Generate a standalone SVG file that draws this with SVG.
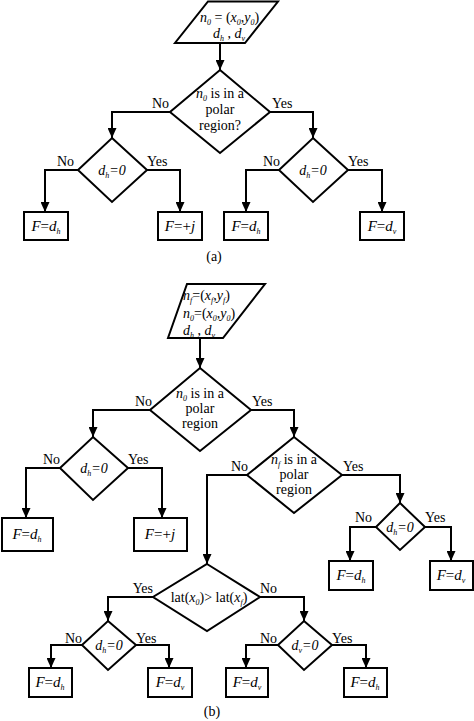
<svg xmlns="http://www.w3.org/2000/svg" width="474" height="721" viewBox="0 0 474 721">
<style>
.t{font-family:"Liberation Serif","Times New Roman",serif;font-size:14px;fill:#000}
.b{font-size:15px}
.l{font-family:"Liberation Serif","Times New Roman",serif;font-size:14px;fill:#000}
.m{text-anchor:middle}
.e{text-anchor:end}
.i{font-style:italic}
.s{font-size:8px}
.shape{fill:#fff;stroke:#000;stroke-width:2}
.c{fill:none;stroke:#000;stroke-width:2}
</style>
<defs>
<marker id="ah" markerUnits="userSpaceOnUse" markerWidth="10" markerHeight="9" refX="10" refY="4.5" orient="auto">
<path d="M0,0 L10,4.5 L0,9 z" fill="#000"/>
</marker>
</defs>
<rect width="474" height="721" fill="#fff"/>

<g id="connectors" class="c" marker-end="url(#ah)">
<polyline points="220,43 220,70"/>
<polyline points="170,112 112,112 112,138"/>
<polyline points="270,112 313,112 313,138"/>
<polyline points="78,170 45,170 45,212"/>
<polyline points="147,170 180,170 180,212"/>
<polyline points="279,170 246,170 246,212"/>
<polyline points="348,170 382,170 382,212"/>
<polyline points="200,338 200,368"/>
<polyline points="150,410 93,410 93,437"/>
<polyline points="251,410 294,410 294,437"/>
<polyline points="60,468 26,468 26,518"/>
<polyline points="128,468 162,468 162,518"/>
<polyline points="247,475 207,475 207,564"/>
<polyline points="342,475 400,475 400,503"/>
<polyline points="376,527 350,527 350,561"/>
<polyline points="425,527 451,527 451,561"/>
<polyline points="153,597 108,597 108,621"/>
<polyline points="260,597 304,597 304,621"/>
<polyline points="82,645 51,645 51,668"/>
<polyline points="136,645 169,645 169,668"/>
<polyline points="278,645 246,645 246,668"/>
<polyline points="332,645 366,645 366,668"/>
</g>

<g id="a_input">
<polygon class="shape" points="208,1.5 278,1.5 245,43 175,43"/>
<text class="t" x="200" y="22"><tspan class="i">n</tspan><tspan class="s i" dy="3">0</tspan><tspan dy="-3"> = (</tspan><tspan class="i">x</tspan><tspan class="s i" dy="3">0</tspan><tspan dy="-3">,</tspan><tspan class="i">y</tspan><tspan class="s i" dy="3">0</tspan><tspan dy="-3">)</tspan></text>
<text class="t" x="213" y="38"><tspan class="i">d</tspan><tspan class="s i" dy="3">h</tspan><tspan dy="-3"> , </tspan><tspan class="i">d</tspan><tspan class="s i" dy="3">v</tspan></text>
</g>

<g id="a_polar">
<polygon class="shape" points="220,70 270,112 220,153 170,112"/>
<text class="t m" x="220" y="98"><tspan class="i">n</tspan><tspan class="s i" dy="3">0</tspan><tspan dy="-3"> is in a</tspan></text>
<text class="t m" x="220" y="114">polar</text>
<text class="t m" x="220" y="130">region?</text>
<text class="l e" x="169" y="108">No</text>
<text class="l" x="272" y="108">Yes</text>
</g>

<g id="a_dh_left">
<polygon class="shape" points="112,138 147,170 112,202 78,170"/>
<text class="t m" x="112" y="175"><tspan class="i">d</tspan><tspan class="s i" dy="3">h</tspan><tspan class="i" dy="-3">=0</tspan></text>
<text class="l e" x="74" y="166">No</text>
<text class="l" x="147" y="166">Yes</text>
</g>

<g id="a_dh_right">
<polygon class="shape" points="313,138 348,170 313,202 279,170"/>
<text class="t m" x="313" y="175"><tspan class="i">d</tspan><tspan class="s i" dy="3">h</tspan><tspan class="i" dy="-3">=0</tspan></text>
<text class="l e" x="280" y="166">No</text>
<text class="l" x="348" y="166">Yes</text>
</g>

<g id="a_box1">
<rect class="shape" x="24" y="212" width="44" height="28"/>
<text class="t b m" x="46" y="231"><tspan class="i">F</tspan>=<tspan class="i">d</tspan><tspan class="s i" dy="3">h</tspan></text>
</g>
<g id="a_box2">
<rect class="shape" x="158" y="212" width="44" height="28"/>
<text class="t b m" x="180" y="231"><tspan class="i">F</tspan>=+<tspan class="i">j</tspan></text>
</g>
<g id="a_box3">
<rect class="shape" x="224" y="212" width="44" height="28"/>
<text class="t b m" x="246" y="231"><tspan class="i">F</tspan>=<tspan class="i">d</tspan><tspan class="s i" dy="3">h</tspan></text>
</g>
<g id="a_box4">
<rect class="shape" x="360" y="212" width="44" height="28"/>
<text class="t b m" x="382" y="231"><tspan class="i">F</tspan>=<tspan class="i">d</tspan><tspan class="s i" dy="3">v</tspan></text>
</g>
<text id="cap_a" class="t m" x="214" y="261">(a)</text>

<g id="b_input">
<polygon class="shape" points="187,284 265,284 223,338 168,338"/>
<text class="t" x="183" y="300"><tspan class="i">n</tspan><tspan class="s i" dy="3">f</tspan><tspan dy="-3">=(</tspan><tspan class="i">x</tspan><tspan class="s i" dy="3">f</tspan><tspan dy="-3">,</tspan><tspan class="i">y</tspan><tspan class="s i" dy="3">f</tspan><tspan dy="-3">)</tspan></text>
<text class="t" x="183" y="318"><tspan class="i">n</tspan><tspan class="s i" dy="3">0</tspan><tspan dy="-3">=(</tspan><tspan class="i">x</tspan><tspan class="s i" dy="3">0</tspan><tspan dy="-3">,</tspan><tspan class="i">y</tspan><tspan class="s i" dy="3">0</tspan><tspan dy="-3">)</tspan></text>
<text class="t" x="183" y="335"><tspan class="i">d</tspan><tspan class="s i" dy="3">h</tspan><tspan dy="-3"> , </tspan><tspan class="i">d</tspan><tspan class="s i" dy="3">v</tspan></text>
</g>

<g id="b_polar0">
<polygon class="shape" points="200,368 251,410 200,451 150,410"/>
<text class="t m" x="200" y="398"><tspan class="i">n</tspan><tspan class="s i" dy="3">0</tspan><tspan dy="-3"> is in a</tspan></text>
<text class="t m" x="200" y="413">polar</text>
<text class="t m" x="200" y="428">region</text>
<text class="l e" x="152" y="406">No</text>
<text class="l" x="252" y="406">Yes</text>
</g>

<g id="b_dh_left">
<polygon class="shape" points="93,437 128,468 93,500 60,468"/>
<text class="t m" x="94" y="473"><tspan class="i">d</tspan><tspan class="s i" dy="3">h</tspan><tspan class="i" dy="-3">=0</tspan></text>
<text class="l e" x="60" y="464">No</text>
<text class="l" x="128" y="464">Yes</text>
</g>
<g id="b_box1">
<rect class="shape" x="2" y="518" width="51" height="33"/>
<text class="t b m" x="27" y="539"><tspan class="i">F</tspan>=<tspan class="i">d</tspan><tspan class="s i" dy="3">h</tspan></text>
</g>
<g id="b_box2">
<rect class="shape" x="134" y="518" width="53" height="33"/>
<text class="t b m" x="160" y="539"><tspan class="i">F</tspan>=+<tspan class="i">j</tspan></text>
</g>

<g id="b_polarf">
<polygon class="shape" points="294,437 342,475 294,513 247,475"/>
<text class="t m" x="294" y="464"><tspan class="i">n</tspan><tspan class="s i" dy="3">f</tspan><tspan dy="-3"> is in a</tspan></text>
<text class="t m" x="294" y="479">polar</text>
<text class="t m" x="294" y="494">region</text>
<text class="l e" x="248" y="471">No</text>
<text class="l" x="343" y="471">Yes</text>
</g>

<g id="b_dh_right">
<polygon class="shape" points="400,503 425,527 400,550 376,527"/>
<text class="t m" x="400" y="532"><tspan class="i">d</tspan><tspan class="s i" dy="3">h</tspan><tspan class="i" dy="-3">=0</tspan></text>
<text class="l e" x="372" y="522">No</text>
<text class="l" x="425" y="522">Yes</text>
</g>
<g id="b_box3">
<rect class="shape" x="329" y="561" width="44" height="29"/>
<text class="t b m" x="351" y="580"><tspan class="i">F</tspan>=<tspan class="i">d</tspan><tspan class="s i" dy="3">h</tspan></text>
</g>
<g id="b_box4">
<rect class="shape" x="430" y="561" width="43" height="29"/>
<text class="t b m" x="451" y="580"><tspan class="i">F</tspan>=<tspan class="i">d</tspan><tspan class="s i" dy="3">v</tspan></text>
</g>

<g id="b_lat">
<polygon class="shape" points="207,564 260,597 207,631 153,597"/>
<text class="t m" x="209" y="602">lat(<tspan class="i">x</tspan><tspan class="s i" dy="3">0</tspan><tspan dy="-3">)&gt; lat(</tspan><tspan class="i">x</tspan><tspan class="s i" dy="3">f</tspan><tspan dy="-3">)</tspan></text>
<text class="l e" x="153" y="593">Yes</text>
<text class="l" x="260" y="593">No</text>
</g>

<g id="b_dh_low">
<polygon class="shape" points="108,621 136,645 108,670 82,645"/>
<text class="t m" x="109" y="650"><tspan class="i">d</tspan><tspan class="s i" dy="3">h</tspan><tspan class="i" dy="-3">=0</tspan></text>
<text class="l e" x="82" y="643">No</text>
<text class="l" x="136" y="643">Yes</text>
</g>
<g id="b_dv_low">
<polygon class="shape" points="304,621 332,645 304,670 278,645"/>
<text class="t m" x="305" y="650"><tspan class="i">d</tspan><tspan class="s i" dy="3">v</tspan><tspan class="i" dy="-3">=0</tspan></text>
<text class="l e" x="277" y="643">No</text>
<text class="l" x="332" y="643">Yes</text>
</g>

<g id="b_box5">
<rect class="shape" x="29" y="668" width="43" height="29"/>
<text class="t b m" x="50" y="687"><tspan class="i">F</tspan>=<tspan class="i">d</tspan><tspan class="s i" dy="3">h</tspan></text>
</g>
<g id="b_box6">
<rect class="shape" x="148" y="668" width="44" height="29"/>
<text class="t b m" x="170" y="687"><tspan class="i">F</tspan>=<tspan class="i">d</tspan><tspan class="s i" dy="3">v</tspan></text>
</g>
<g id="b_box7">
<rect class="shape" x="226" y="668" width="42" height="29"/>
<text class="t b m" x="247" y="687"><tspan class="i">F</tspan>=<tspan class="i">d</tspan><tspan class="s i" dy="3">v</tspan></text>
</g>
<g id="b_box8">
<rect class="shape" x="344" y="668" width="43" height="29"/>
<text class="t b m" x="365" y="687"><tspan class="i">F</tspan>=<tspan class="i">d</tspan><tspan class="s i" dy="3">h</tspan></text>
</g>
<text id="cap_b" class="t m" x="212" y="716">(b)</text>
</svg>
